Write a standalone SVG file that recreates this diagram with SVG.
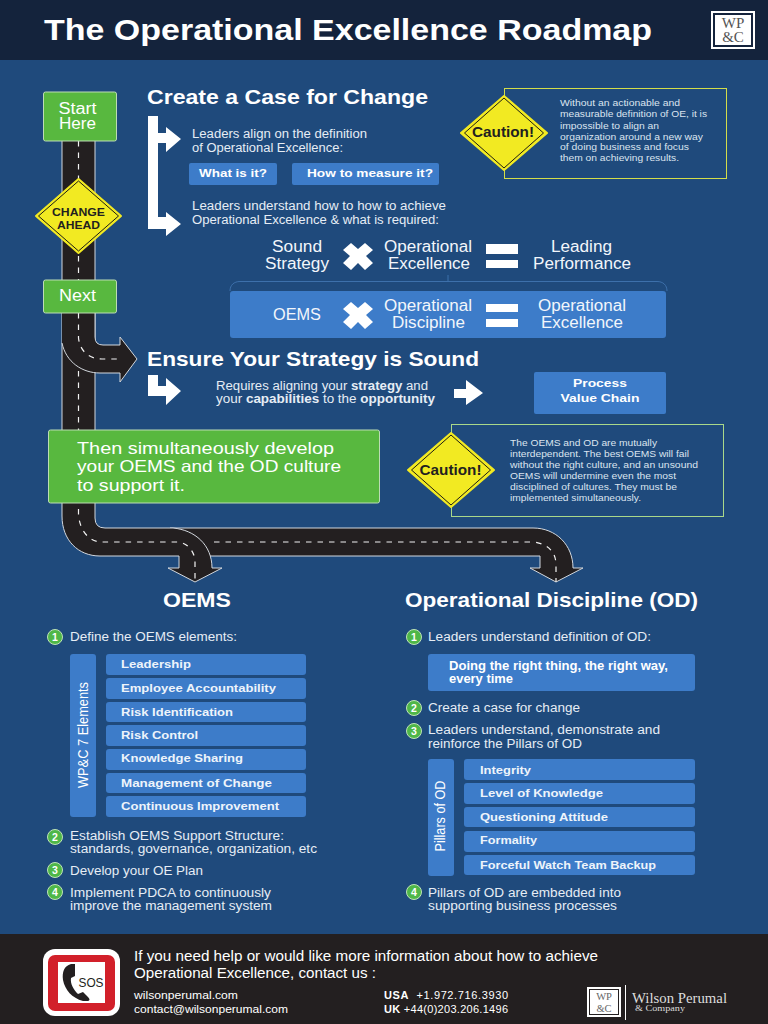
<svg xmlns="http://www.w3.org/2000/svg" width="768" height="1024" viewBox="0 0 768 1024">
<style>
text{font-family:"Liberation Sans",Arial,sans-serif;fill:#fff}
.b{font-weight:bold}
.m{text-anchor:middle}
.s{font-family:"Liberation Serif","Times New Roman",serif}
.h{font-size:20.500px;font-weight:bold}
.t{font-size:12px;fill:#e6edf5}
.c{font-size:16px;text-anchor:middle;fill:#f2f6fb}
.sm{font-size:9.500px;fill:#dbe4ef}
.row{font-size:11.500px;font-weight:bold;fill:#eef4fb}
.blue{fill:#3d7cc9}
.green{fill:#58b83f;stroke:#bcdcb4;stroke-width:1}
.yd{fill:#f2ea22;stroke:#1e1e14;stroke-width:1;stroke-linejoin:round}
.yo{fill:#f2ea22;stroke:#f2ea22;stroke-width:2;stroke-linejoin:round}
.rf{fill:#231f20}
.re{fill:none;stroke:#d3d8de;stroke-width:1}
.dash{fill:none;stroke:#f2f2f2;stroke-width:1.200;stroke-dasharray:5.500 6}
.num{fill:#4fb748;stroke:#bfe3b8;stroke-width:1}
.n{font-size:10.500px;font-weight:bold;text-anchor:middle}
.wh{fill:#fff}
.k{fill:#231f20}
</style>
<rect width="768" height="1024" fill="#1f4a7c"/>
<g id="header">
<rect width="768" height="60" fill="#14233c"/>
<text x="44" y="40" font-size="30" class="b" textLength="608" lengthAdjust="spacingAndGlyphs">The Operational Excellence Roadmap</text>
<rect x="711" y="11" width="44" height="38" fill="#fff"/>
<rect x="714" y="14" width="38" height="32" fill="none" stroke="#14233c" stroke-width="2"/>
<text x="733" y="28" font-size="15" class="s m" style="fill:#555">WP</text>
<text x="733" y="42" font-size="15" class="s m" style="fill:#555">&amp;C</text>
</g>
<g id="connectors">
<!-- second road sits behind first -->
<path class="rf" d="M170 528H533C556 528 573 545 573 568H583L556 582L530 568H540V556H170Z"/>
<path class="re" d="M170 528H533C556 528 573 545 573 568H583L556 582L530 568H540V556H205"/>
<!-- main vertical road -->
<path class="rf" d="M62 141H95V518Q95 528 105 528H173C195 530 212 545 212 568H222L195 582L168 568H179V556H100C78 556 62 540 62 516Z"/>
<path class="re" d="M95 141V518Q95 528 105 528H173C195 530 212 545 212 568H222L195 582L168 568H179V556H100C78 556 62 540 62 516V141"/>
<path class="dash" d="M78.500 141V515C80 532 90 542 102 542H178C188 543 195 552 195 562V582"/>
<path class="dash" d="M214 542H534C548 544 556 552 556 565V582"/>
<!-- branch toward Ensure Your Strategy -->
<path class="rf" d="M62 343C66 362 82 373 100 373H120V382L137 359L120 337V345H103Q95 345 95 337V313H62Z"/>
<path class="re" d="M62 343C66 362 82 373 100 373H120V382L137 359L120 337V345H103Q95 345 95 337V313"/>
<path class="dash" d="M78.500 313V338C80 352 90 359 102 359H122"/>
<path class="wh" d="M148 116H158V133H166V127L181 139L166 152V143H158V217H166V212L181 224L166 236V229H148Z"/>
<path class="wh" d="M148 375H158V386H166V378L181 391L166 405V396H148Z"/>
<path class="wh" d="M454 389H466V380L483 393L466 405V398H454Z"/>
<path d="M230 291C230 285 234 281.500 240 281.500H657C663 281.500 667 285 667 291M448 275V281" fill="none" stroke="#3d70ab"/>
</g>
<g id="start-here">
<rect class="green" x="43.500" y="92" width="73" height="49" rx="2"/>
<text x="77.500" y="114" font-size="16" class="m" textLength="38" lengthAdjust="spacingAndGlyphs">Start</text>
<text x="77.500" y="129" font-size="16" class="m" textLength="37" lengthAdjust="spacingAndGlyphs">Here</text>
</g>
<g id="change-ahead">
<path class="yo" d="M78.500 179L121 216L78.500 253L36 216Z"/>
<path class="yd" d="M78.500 181L118.500 216L78.500 251L38.500 216Z"/>
<text x="78.500" y="216" font-size="11" class="b m k" style="fill:#231f20" textLength="53" lengthAdjust="spacingAndGlyphs">CHANGE</text>
<text x="78.500" y="229" font-size="11" class="b m" style="fill:#231f20" textLength="43" lengthAdjust="spacingAndGlyphs">AHEAD</text>
</g>
<g id="next">
<rect class="green" x="43.500" y="280" width="73" height="33" rx="2"/>
<text x="77.500" y="300.500" font-size="16" class="m" textLength="37" lengthAdjust="spacingAndGlyphs">Next</text>
</g>
<g id="case-for-change">
<text x="147" y="104" class="h" textLength="281" lengthAdjust="spacingAndGlyphs">Create a Case for Change</text>
<text x="192" y="138" class="t" textLength="175" lengthAdjust="spacingAndGlyphs">Leaders align on the definition</text>
<text x="192" y="152" class="t" textLength="151" lengthAdjust="spacingAndGlyphs">of Operational Excellence:</text>
<rect class="blue" x="189" y="163" width="88" height="22" rx="2"/>
<text x="233" y="177" font-size="11.500" class="b m" textLength="68" lengthAdjust="spacingAndGlyphs">What is it?</text>
<rect class="blue" x="292" y="163" width="147" height="22" rx="2"/>
<text x="370" y="177" font-size="11.500" class="b m" textLength="126" lengthAdjust="spacingAndGlyphs">How to measure it?</text>
<text x="192" y="210" class="t" textLength="254" lengthAdjust="spacingAndGlyphs">Leaders understand how to how to achieve</text>
<text x="192" y="224" class="t" textLength="247" lengthAdjust="spacingAndGlyphs">Operational Excellence &amp; what is required:</text>
</g>
<g id="equation-1">
<text x="297" y="252" class="c" textLength="50" lengthAdjust="spacingAndGlyphs">Sound</text>
<text x="297" y="269" class="c" textLength="64" lengthAdjust="spacingAndGlyphs">Strategy</text>
<path class="wh" d="M351 243L358 249L365 243L373 250L366 256L373 263L365 270L358 263L351 270L343 263L350 256L343 250Z"/>
<text x="428" y="252" class="c" textLength="88" lengthAdjust="spacingAndGlyphs">Operational</text>
<text x="429" y="269" class="c" textLength="82" lengthAdjust="spacingAndGlyphs">Excellence</text>
<rect class="wh" x="486" y="244" width="32" height="10"/>
<rect class="wh" x="486" y="260" width="32" height="8"/>
<text x="581.500" y="252" class="c" textLength="61" lengthAdjust="spacingAndGlyphs">Leading</text>
<text x="582" y="269" class="c" textLength="98" lengthAdjust="spacingAndGlyphs">Performance</text>
</g>
<g id="equation-2">
<rect class="blue" x="230" y="291" width="436" height="47" rx="3"/>
<text x="297" y="320" class="c" textLength="48" lengthAdjust="spacingAndGlyphs">OEMS</text>
<path class="wh" d="M351 302L358 308L365 302L373 309L366 315L373 322L365 329L358 322L351 329L343 322L350 315L343 309Z"/>
<text x="428" y="311" class="c" textLength="88" lengthAdjust="spacingAndGlyphs">Operational</text>
<text x="428.500" y="328" class="c" textLength="73" lengthAdjust="spacingAndGlyphs">Discipline</text>
<rect class="wh" x="486" y="304" width="32" height="8"/>
<rect class="wh" x="486" y="319" width="32" height="8"/>
<text x="582" y="311" class="c" textLength="88" lengthAdjust="spacingAndGlyphs">Operational</text>
<text x="582" y="328" class="c" textLength="82" lengthAdjust="spacingAndGlyphs">Excellence</text>
</g>
<g id="caution-1">
<rect x="504.500" y="88.500" width="222" height="90" fill="none" stroke="#d3dd4a" stroke-width="1"/>
<path class="yo" d="M504 96L547 133L504 170L461 133Z"/>
<path class="yd" d="M504 98L543.500 133L504 168L464.500 133Z"/>
<text x="503" y="137" font-size="14" class="b m" style="fill:#231f20" textLength="62" lengthAdjust="spacingAndGlyphs">Caution!</text>
<text x="560" y="106" class="sm" textLength="120" lengthAdjust="spacingAndGlyphs">Without an actionable and</text>
<text x="560" y="117" class="sm" textLength="147" lengthAdjust="spacingAndGlyphs">measurable definition of OE, it is</text>
<text x="560" y="129" class="sm" textLength="99" lengthAdjust="spacingAndGlyphs">impossible to align an</text>
<text x="560" y="140" class="sm" textLength="143" lengthAdjust="spacingAndGlyphs">organization around a new way</text>
<text x="560" y="150" class="sm" textLength="129" lengthAdjust="spacingAndGlyphs">of doing business and focus</text>
<text x="560" y="161" class="sm" textLength="119" lengthAdjust="spacingAndGlyphs">them on achieving results.</text>
</g>
<g id="strategy">
<text x="147" y="366" class="h" textLength="332" lengthAdjust="spacingAndGlyphs">Ensure Your Strategy is Sound</text>
<text x="216" y="390" class="t" textLength="212" lengthAdjust="spacingAndGlyphs">Requires aligning your <tspan class="b">strategy</tspan> and</text>
<text x="216" y="403" class="t" textLength="219" lengthAdjust="spacingAndGlyphs">your <tspan class="b">capabilities</tspan> to the <tspan class="b">opportunity</tspan></text>
<rect class="blue" x="534" y="372" width="132" height="42" rx="2"/>
<text x="600" y="387" font-size="11.500" class="b m" textLength="54" lengthAdjust="spacingAndGlyphs">Process</text>
<text x="600" y="402" font-size="11.500" class="b m" textLength="79" lengthAdjust="spacingAndGlyphs">Value Chain</text>
</g>
<g id="simultaneous">
<rect class="green" x="48.500" y="430" width="331" height="73" rx="2"/>
<text x="77" y="454" font-size="16.500" textLength="257" lengthAdjust="spacingAndGlyphs">Then simultaneously develop</text>
<text x="77" y="472" font-size="16.500" textLength="264" lengthAdjust="spacingAndGlyphs">your OEMS and the OD culture</text>
<text x="77" y="491" font-size="16.500" textLength="108" lengthAdjust="spacingAndGlyphs">to support it.</text>
</g>
<g id="caution-2">
<rect x="451.500" y="424.500" width="272" height="92" fill="none" stroke="#a9d88a" stroke-width="1"/>
<path class="yo" d="M451 433L494 470L451 507L408 470Z"/>
<path class="yd" d="M451 435L490.500 470L451 505L411.500 470Z"/>
<text x="450.500" y="475" font-size="14" class="b m" style="fill:#231f20" textLength="62" lengthAdjust="spacingAndGlyphs">Caution!</text>
<text x="510" y="446" class="sm" textLength="147" lengthAdjust="spacingAndGlyphs">The OEMS and OD are mutually</text>
<text x="510" y="457" class="sm" textLength="179" lengthAdjust="spacingAndGlyphs">interdependent. The best OEMS will fail</text>
<text x="510" y="468" class="sm" textLength="188" lengthAdjust="spacingAndGlyphs">without the right culture, and an unsound</text>
<text x="510" y="479" class="sm" textLength="166" lengthAdjust="spacingAndGlyphs">OEMS will undermine even the most</text>
<text x="510" y="490" class="sm" textLength="167" lengthAdjust="spacingAndGlyphs">disciplined of cultures. They must be</text>
<text x="510" y="501" class="sm" textLength="131" lengthAdjust="spacingAndGlyphs">implemented simultaneously.</text>
</g>
<g id="oems">
<text x="197" y="607" class="h m" textLength="68" lengthAdjust="spacingAndGlyphs">OEMS</text>
<circle class="num" cx="55" cy="637" r="7.500"/><text x="55" y="641" class="n">1</text>
<text x="70" y="641" class="t" textLength="167" lengthAdjust="spacingAndGlyphs">Define the OEMS elements:</text>
<rect class="blue" x="70" y="654" width="26" height="163" rx="3"/>
<text transform="translate(88 735) rotate(-90)" font-size="15" class="m" textLength="106" lengthAdjust="spacingAndGlyphs">WP&amp;C 7 Elements</text>
<rect class="blue" x="106" y="654" width="200" height="21" rx="3"/><text x="121" y="668" class="row" textLength="70" lengthAdjust="spacingAndGlyphs">Leadership</text>
<rect class="blue" x="106" y="678" width="200" height="21" rx="3"/><text x="121" y="692" class="row" textLength="155" lengthAdjust="spacingAndGlyphs">Employee Accountability</text>
<rect class="blue" x="106" y="702" width="200" height="20" rx="3"/><text x="121" y="716" class="row" textLength="112" lengthAdjust="spacingAndGlyphs">Risk Identification</text>
<rect class="blue" x="106" y="725" width="200" height="21" rx="3"/><text x="121" y="739" class="row" textLength="77" lengthAdjust="spacingAndGlyphs">Risk Control</text>
<rect class="blue" x="106" y="749" width="200" height="21" rx="3"/><text x="121" y="762" class="row" textLength="122" lengthAdjust="spacingAndGlyphs">Knowledge Sharing</text>
<rect class="blue" x="106" y="773" width="200" height="20" rx="3"/><text x="121" y="787" class="row" textLength="151" lengthAdjust="spacingAndGlyphs">Management of Change</text>
<rect class="blue" x="106" y="796" width="200" height="21" rx="3"/><text x="121" y="810" class="row" textLength="158" lengthAdjust="spacingAndGlyphs">Continuous Improvement</text>
<circle class="num" cx="55" cy="837" r="7.500"/><text x="55" y="841" class="n">2</text>
<text x="70" y="840" class="t" textLength="214" lengthAdjust="spacingAndGlyphs">Establish OEMS Support Structure:</text>
<text x="70" y="853" class="t" textLength="247" lengthAdjust="spacingAndGlyphs">standards, governance, organization, etc</text>
<circle class="num" cx="55" cy="870" r="7.500"/><text x="55" y="874" class="n">3</text>
<text x="70" y="875" class="t" textLength="133" lengthAdjust="spacingAndGlyphs">Develop your OE Plan</text>
<circle class="num" cx="55" cy="892" r="7.500"/><text x="55" y="896" class="n">4</text>
<text x="70" y="897" class="t" textLength="201" lengthAdjust="spacingAndGlyphs">Implement PDCA to continuously</text>
<text x="70" y="910" class="t" textLength="202" lengthAdjust="spacingAndGlyphs">improve the management system</text>
</g>
<g id="operational-discipline">
<text x="405" y="607" class="h" textLength="293" lengthAdjust="spacingAndGlyphs">Operational Discipline (OD)</text>
<circle class="num" cx="414" cy="637" r="7.500"/><text x="414" y="641" class="n">1</text>
<text x="428" y="641" class="t" textLength="223" lengthAdjust="spacingAndGlyphs">Leaders understand definition of OD:</text>
<rect class="blue" x="428" y="654" width="267" height="37" rx="3"/>
<text x="449" y="670" font-size="12" class="b" textLength="219" lengthAdjust="spacingAndGlyphs">Doing the right thing, the right way,</text>
<text x="449" y="683" font-size="12" class="b" textLength="64" lengthAdjust="spacingAndGlyphs">every time</text>
<circle class="num" cx="414" cy="708" r="7.500"/><text x="414" y="712" class="n">2</text>
<text x="428" y="712" class="t" textLength="152" lengthAdjust="spacingAndGlyphs">Create a case for change</text>
<circle class="num" cx="414" cy="731" r="7.500"/><text x="414" y="735" class="n">3</text>
<text x="428" y="734" class="t" textLength="232" lengthAdjust="spacingAndGlyphs">Leaders understand, demonstrate and</text>
<text x="428" y="748" class="t" textLength="154" lengthAdjust="spacingAndGlyphs">reinforce the Pillars of OD</text>
<rect class="blue" x="428" y="759" width="26" height="117" rx="3"/>
<text transform="translate(445 816) rotate(-90)" font-size="15" class="m" textLength="71" lengthAdjust="spacingAndGlyphs">Pillars of OD</text>
<rect class="blue" x="464" y="759" width="231" height="21" rx="3"/><text x="480" y="774" class="row" textLength="51" lengthAdjust="spacingAndGlyphs">Integrity</text>
<rect class="blue" x="464" y="783" width="231" height="21" rx="3"/><text x="480" y="797" class="row" textLength="123" lengthAdjust="spacingAndGlyphs">Level of Knowledge</text>
<rect class="blue" x="464" y="807" width="231" height="20" rx="3"/><text x="480" y="821" class="row" textLength="128" lengthAdjust="spacingAndGlyphs">Questioning Attitude</text>
<rect class="blue" x="464" y="831" width="231" height="21" rx="3"/><text x="480" y="844" class="row" textLength="57" lengthAdjust="spacingAndGlyphs">Formality</text>
<rect class="blue" x="464" y="855" width="231" height="20" rx="3"/><text x="480" y="869" class="row" textLength="176" lengthAdjust="spacingAndGlyphs">Forceful Watch Team Backup</text>
<circle class="num" cx="414" cy="892" r="7.500"/><text x="414" y="896" class="n">4</text>
<text x="428" y="897" class="t" textLength="193" lengthAdjust="spacingAndGlyphs">Pillars of OD are embedded into</text>
<text x="428" y="910" class="t" textLength="189" lengthAdjust="spacingAndGlyphs">supporting business processes</text>
</g>
<g id="footer">
<rect y="934" width="768" height="90" fill="#231f20"/>
<rect x="43" y="949" width="77" height="67" rx="12" fill="#fff"/>
<rect x="48" y="955" width="67" height="56" rx="7" fill="#d2202a"/>
<rect x="58" y="962" width="47" height="41" fill="#fff"/>
<path d="M75 964H71C64 966 62 972 63 980C65 990 72 998 83 1001H88Q91 1000 88 997L83 992L78 994C74 990 70 984 71 978L75 976Z" fill="#231f20"/>
<text x="91" y="987" font-size="12" class="m" style="fill:#231f20" textLength="25" lengthAdjust="spacingAndGlyphs">SOS</text>
<text x="134" y="961" font-size="14" textLength="464" lengthAdjust="spacingAndGlyphs">If you need help or would like more information about how to achieve</text>
<text x="134" y="978" font-size="14" textLength="242" lengthAdjust="spacingAndGlyphs">Operational Excellence, contact us :</text>
<text x="134" y="999" font-size="11" textLength="104" lengthAdjust="spacingAndGlyphs">wilsonperumal.com</text>
<text x="134" y="1013" font-size="11" textLength="154" lengthAdjust="spacingAndGlyphs">contact@wilsonperumal.com</text>
<text x="384" y="999" font-size="11" textLength="124" xml:space="preserve"><tspan class="b">USA</tspan>  +1.972.716.3930</text>
<text x="384" y="1013" font-size="11" textLength="124"><tspan class="b">UK</tspan> +44(0)203.206.1496</text>
<rect x="587" y="987" width="34" height="30" fill="#fff"/>
<rect x="589.500" y="989.500" width="29" height="25" fill="none" stroke="#231f20"/>
<text x="604" y="1000" font-size="10.500" class="s m" style="fill:#666">WP</text>
<text x="604" y="1012" font-size="10.500" class="s m" style="fill:#666">&amp;C</text>
<rect x="625" y="985" width="1" height="35" fill="#fff"/>
<text x="632" y="1003" font-size="14" class="s" style="fill:#ddd" textLength="95" lengthAdjust="spacingAndGlyphs">Wilson Perumal</text>
<text x="635" y="1011" font-size="8" class="s" style="fill:#ddd" textLength="50" lengthAdjust="spacingAndGlyphs">&amp; Company</text>
</g>
</svg>
